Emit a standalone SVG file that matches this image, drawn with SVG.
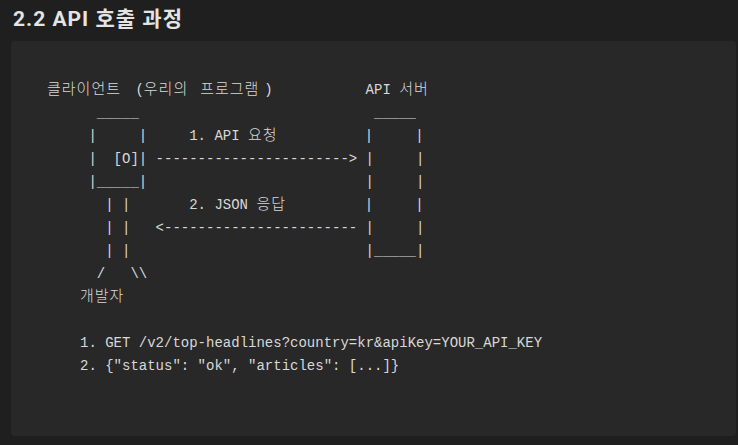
<svg xmlns="http://www.w3.org/2000/svg" width="738" height="445" viewBox="0 0 738 445" xml:space="preserve">
<style>
.bg{fill:#1f1f1f}
.blk{fill:#282828}
.h{font-family:"Roboto","Noto Sans CJK KR",sans-serif;font-weight:700;font-size:21px;fill:#e4e4e4}
.m{font-family:"Liberation Mono","Noto Sans CJK KR",monospace;font-size:14px;fill:#d8d8d8;white-space:pre}
.k{font-family:"Noto Sans CJK KR",sans-serif;font-size:15px;font-weight:300;letter-spacing:1px;fill:#d8d8d8}
</style>
<rect class="bg" x="0" y="0" width="738" height="445"/>
<text class="h" x="13" y="26" textLength="169" lengthAdjust="spacing">2.2 API 호출 과정</text>
<rect class="blk" x="11" y="41" width="725" height="395" rx="4"/>

<g id="client">
  <text class="k" x="47" y="94">클라이언트</text>
  <text class="m" x="135.4" y="94">(</text>
  <text class="k" x="143.8" y="94">우리의</text>
  <text class="k" x="200.2" y="94">프로그램</text>
  <text class="m" x="264.2" y="94">)</text>
  <text class="m" x="96.8" y="117">_____</text>
  <text class="m" x="88.4" y="140">|     |</text>
  <text class="m" x="88.4" y="163">|  [O]|</text>
  <text class="m" x="88.4" y="186">|_____|</text>
</g>

<g id="developer">
  <text class="m" x="105.2" y="209">| |</text>
  <text class="m" x="105.2" y="232">| |</text>
  <text class="m" x="105.2" y="255">| |</text>
  <text class="m" x="96.8" y="278">/   \\</text>
  <text class="k" x="80" y="301">개발자</text>
</g>

<g id="server">
  <text class="m" x="365.6" y="94">API</text>
  <text class="k" x="399.2" y="94">서버</text>
  <text class="m" x="374" y="117">_____</text>
  <text class="m" x="364.8" y="140">|     |</text>
  <text class="m" x="365.6" y="163">|     |</text>
  <text class="m" x="365.6" y="186">|     |</text>
  <text class="m" x="364.8" y="209">|     |</text>
  <text class="m" x="365.6" y="232">|     |</text>
  <text class="m" x="365.6" y="255">|_____|</text>
</g>

<g id="connectors">
  <text class="m" x="189.2" y="140">1. API</text>
  <text class="k" x="248" y="140">요청</text>
  <text class="m" x="155.6" y="163">-----------------------&gt;</text>
  <text class="m" x="189.2" y="209">2. JSON</text>
  <text class="k" x="256.4" y="209">응답</text>
  <text class="m" x="155.6" y="232">&lt;-----------------------</text>
</g>

<g id="notes">
  <text class="m" x="80" y="347">1. GET /v2/top-headlines?country=kr&amp;apiKey=YOUR_API_KEY</text>
  <text class="m" x="80" y="370">2. {"status": "ok", "articles": [...]}</text>
</g>
</svg>
